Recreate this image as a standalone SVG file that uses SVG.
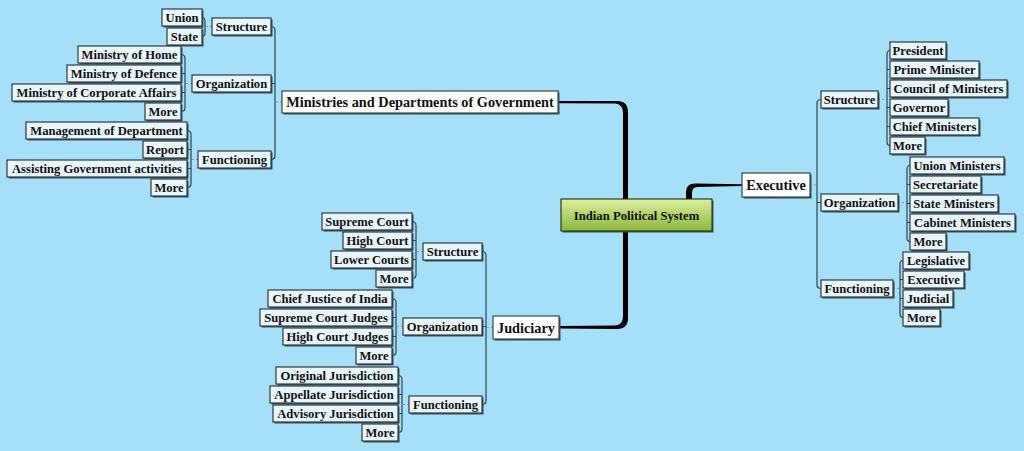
<svg xmlns="http://www.w3.org/2000/svg" width="1024" height="451" viewBox="0 0 1024 451">
<defs>
<linearGradient id="gc" x1="0" y1="0" x2="0" y2="1"><stop offset="0" stop-color="#dcee9f"/><stop offset="1" stop-color="#8cb83a"/></linearGradient>
<style>
.sh{fill:#3e4d55}
.lf{fill:#e8f5fb;stroke:#2c3b43;stroke-width:1.2}
.l1{fill:#ffffff;stroke:#3a4448;stroke-width:1.2}
.t{font-family:"Liberation Serif","Times New Roman",serif;font-weight:bold;font-size:12.6px;fill:#111;text-anchor:middle}
.t1{font-family:"Liberation Serif","Times New Roman",serif;font-weight:bold;font-size:14.3px;fill:#111;text-anchor:middle}
.br{fill:none;stroke:#2e4550;stroke-width:1.2}
.dt{fill:none;stroke:#8a9aa3;stroke-width:1;stroke-dasharray:2,2}
.th{fill:#000}
</style>
</defs>
<rect width="1024" height="451" fill="#a6dff8"/>
<g id="connectors">
<path class="th" d="M559,101 L617,101 Q628,101 628,112 L628,200 L623,200 L623,113 Q623,104 615,103.5 L559,103.2 Z"/>
<path class="th" d="M559,326 L615,325.5 Q623,325 623,316 L623,231 L628,231 L628,318 Q628,329 617,329 L559,328.5 Z"/>
<path class="th" d="M686,199 L686,192 Q686,183.5 695,183.5 L742,184.3 L742,186 L697,187 Q692,187.5 692,193 L692,199 Z"/>
<path class="dt" d="M810,185H817 M878,99.5H887 M898,202.5H907 M893,288.5H900 M282,102H275 M212,26.5H205 M192,83.5H185 M198,159.5H191 M493,327.5H486 M423,251.5H416 M403,326.5H396 M409,404.5H402"/>
<path class="br" d="M821,99.5 Q817,99.5 817,103.5 V284.5 Q817,288.5 821,288.5 M817,202.5H821"/>
<path class="br" d="M890,50.5 Q887,50.5 887,54.5 V141.5 Q887,145.5 890,145.5 M887,69.5H890 M887,88.5H890 M887,107.5H890 M887,126.5H890"/>
<path class="br" d="M910,165.5 Q907,165.5 907,169.5 V237.5 Q907,241.5 910,241.5 M907,184.5H910 M907,203.5H910 M907,222.5H910"/>
<path class="br" d="M903,260.5 Q900,260.5 900,264.5 V313.5 Q900,317.5 903,317.5 M900,279.5H903 M900,298.5H903"/>
<path class="br" d="M271,26.5 Q275,26.5 275,30.5 V155.5 Q275,159.5 271,159.5 M275,83.5H271"/>
<path class="br" d="M202,17.5 Q205,17.5 205,21.5 V32.5 Q205,36.5 202,36.5"/>
<path class="br" d="M181,54.5 Q185,54.5 185,58.5 V107.5 Q185,111.5 181,111.5 M185,73.5H181 M185,92.5H181"/>
<path class="br" d="M187,130.5 Q191,130.5 191,134.5 V183.5 Q191,187.5 187,187.5 M191,149.5H187 M191,168.5H187"/>
<path class="br" d="M482,251.5 Q486,251.5 486,255.5 V400.5 Q486,404.5 482,404.5 M486,326.5H482"/>
<path class="br" d="M412,221.5 Q416,221.5 416,225.5 V274.5 Q416,278.5 412,278.5 M416,240.5H412 M416,259.5H412"/>
<path class="br" d="M392,298.5 Q396,298.5 396,302.5 V351.5 Q396,355.5 392,355.5 M396,317.5H392 M396,336.5H392"/>
<path class="br" d="M398,375.5 Q402,375.5 402,379.5 V428.5 Q402,432.5 398,432.5 M402,394.5H398 M402,413.5H398"/>
</g>
<g id="center"><rect x="562.5" y="200.5" width="151" height="32" class="sh"/><rect x="561" y="199" width="151" height="32" fill="url(#gc)" stroke="#2c3b20" stroke-width="1.2"/><text x="636.5" y="219.5" class="t" style="font-size:12.7px">Indian Political System</text></g>
<g id="ministries"><rect x="283.5" y="92.5" width="276" height="22" class="sh"/><rect x="282" y="91" width="276" height="22" class="l1"/><text x="420" y="107" class="t1">Ministries and Departments of Government</text></g>
<g id="executive"><rect x="743.5" y="174.5" width="68" height="24" class="sh"/><rect x="742" y="173" width="68" height="24" class="l1"/><text x="776" y="190" class="t1">Executive</text></g>
<g id="judiciary"><rect x="494.5" y="317.5" width="66" height="23" class="sh"/><rect x="493" y="316" width="66" height="23" class="l1"/><text x="526" y="332.5" class="t1">Judiciary</text></g>
<g id="ex-structure"><rect x="822.5" y="92.5" width="57" height="17" class="sh"/><rect x="821" y="91" width="57" height="17" class="lf"/><text x="849.5" y="104" class="t">Structure</text></g>
<g id="ex-organization"><rect x="822.5" y="195.5" width="77" height="17" class="sh"/><rect x="821" y="194" width="77" height="17" class="lf"/><text x="859.5" y="207" class="t">Organization</text></g>
<g id="ex-functioning"><rect x="822.5" y="281.5" width="72" height="17" class="sh"/><rect x="821" y="280" width="72" height="17" class="lf"/><text x="857" y="293" class="t">Functioning</text></g>
<g id="ex-president"><rect x="891.5" y="43.5" width="56" height="17" class="sh"/><rect x="890" y="42" width="56" height="17" class="lf"/><text x="918" y="55" class="t">President</text></g>
<g id="ex-pm"><rect x="891.5" y="62.5" width="89" height="17" class="sh"/><rect x="890" y="61" width="89" height="17" class="lf"/><text x="934.5" y="74" class="t">Prime Minister</text></g>
<g id="ex-com"><rect x="891.5" y="81.5" width="117" height="17" class="sh"/><rect x="890" y="80" width="117" height="17" class="lf"/><text x="948.5" y="93" class="t">Council of Ministers</text></g>
<g id="ex-governor"><rect x="891.5" y="100.5" width="58" height="17" class="sh"/><rect x="890" y="99" width="58" height="17" class="lf"/><text x="919" y="112" class="t">Governor</text></g>
<g id="ex-cm"><rect x="891.5" y="119.5" width="89" height="17" class="sh"/><rect x="890" y="118" width="89" height="17" class="lf"/><text x="934.5" y="131" class="t">Chief Ministers</text></g>
<g id="ex-more1"><rect x="891.5" y="138.5" width="35" height="17" class="sh"/><rect x="890" y="137" width="35" height="17" class="lf"/><text x="907.5" y="150" class="t">More</text></g>
<g id="ex-um"><rect x="911.5" y="158.5" width="94" height="17" class="sh"/><rect x="910" y="157" width="94" height="17" class="lf"/><text x="957" y="170" class="t">Union Ministers</text></g>
<g id="ex-sec"><rect x="911.5" y="177.5" width="71" height="17" class="sh"/><rect x="910" y="176" width="71" height="17" class="lf"/><text x="945.5" y="189" class="t">Secretariate</text></g>
<g id="ex-sm"><rect x="911.5" y="196.5" width="88" height="17" class="sh"/><rect x="910" y="195" width="88" height="17" class="lf"/><text x="954" y="208" class="t">State Ministers</text></g>
<g id="ex-cabm"><rect x="911.5" y="215.5" width="105" height="17" class="sh"/><rect x="910" y="214" width="105" height="17" class="lf"/><text x="962.5" y="227" class="t">Cabinet Ministers</text></g>
<g id="ex-more2"><rect x="911.5" y="234.5" width="36" height="17" class="sh"/><rect x="910" y="233" width="36" height="17" class="lf"/><text x="928" y="246" class="t">More</text></g>
<g id="ex-leg"><rect x="904.5" y="253.5" width="66" height="17" class="sh"/><rect x="903" y="252" width="66" height="17" class="lf"/><text x="936" y="265" class="t">Legislative</text></g>
<g id="ex-exe"><rect x="904.5" y="272.5" width="61" height="17" class="sh"/><rect x="903" y="271" width="61" height="17" class="lf"/><text x="933.5" y="284" class="t">Executive</text></g>
<g id="ex-jud"><rect x="904.5" y="291.5" width="50" height="17" class="sh"/><rect x="903" y="290" width="50" height="17" class="lf"/><text x="928" y="303" class="t">Judicial</text></g>
<g id="ex-more3"><rect x="904.5" y="310.5" width="37" height="17" class="sh"/><rect x="903" y="309" width="37" height="17" class="lf"/><text x="921.5" y="322" class="t">More</text></g>
<g id="mn-structure"><rect x="213.5" y="19.5" width="59" height="17" class="sh"/><rect x="212" y="18" width="59" height="17" class="lf"/><text x="241.5" y="31" class="t">Structure</text></g>
<g id="mn-organization"><rect x="193.5" y="76.5" width="79" height="17" class="sh"/><rect x="192" y="75" width="79" height="17" class="lf"/><text x="231.5" y="88" class="t">Organization</text></g>
<g id="mn-functioning"><rect x="199.5" y="152.5" width="73" height="17" class="sh"/><rect x="198" y="151" width="73" height="17" class="lf"/><text x="234.5" y="164" class="t">Functioning</text></g>
<g id="mn-union"><rect x="163.5" y="10.5" width="40" height="17" class="sh"/><rect x="162" y="9" width="40" height="17" class="lf"/><text x="182" y="22" class="t">Union</text></g>
<g id="mn-state"><rect x="168.5" y="29.5" width="35" height="17" class="sh"/><rect x="167" y="28" width="35" height="17" class="lf"/><text x="184.5" y="41" class="t">State</text></g>
<g id="mn-home"><rect x="79.5" y="47.5" width="103" height="17" class="sh"/><rect x="78" y="46" width="103" height="17" class="lf"/><text x="129.5" y="59" class="t">Ministry of Home</text></g>
<g id="mn-defence"><rect x="68.5" y="66.5" width="114" height="17" class="sh"/><rect x="67" y="65" width="114" height="17" class="lf"/><text x="124" y="78" class="t">Ministry of Defence</text></g>
<g id="mn-corp"><rect x="13.5" y="85.5" width="169" height="17" class="sh"/><rect x="12" y="84" width="169" height="17" class="lf"/><text x="96.5" y="97" class="t">Ministry of Corporate Affairs</text></g>
<g id="mn-more1"><rect x="146.5" y="104.5" width="36" height="17" class="sh"/><rect x="145" y="103" width="36" height="17" class="lf"/><text x="163" y="116" class="t">More</text></g>
<g id="mn-mgmt"><rect x="27.5" y="123.5" width="161" height="17" class="sh"/><rect x="26" y="122" width="161" height="17" class="lf"/><text x="106.5" y="135" class="t">Management of Department</text></g>
<g id="mn-report"><rect x="144.5" y="142.5" width="44" height="17" class="sh"/><rect x="143" y="141" width="44" height="17" class="lf"/><text x="165" y="154" class="t">Report</text></g>
<g id="mn-assist"><rect x="8.5" y="161.5" width="180" height="17" class="sh"/><rect x="7" y="160" width="180" height="17" class="lf"/><text x="97" y="173" class="t">Assisting Government activities</text></g>
<g id="mn-more2"><rect x="152.5" y="180.5" width="36" height="17" class="sh"/><rect x="151" y="179" width="36" height="17" class="lf"/><text x="169" y="192" class="t">More</text></g>
<g id="jd-structure"><rect x="424.5" y="244.5" width="59" height="17" class="sh"/><rect x="423" y="243" width="59" height="17" class="lf"/><text x="452.5" y="256" class="t">Structure</text></g>
<g id="jd-organization"><rect x="404.5" y="319.5" width="79" height="17" class="sh"/><rect x="403" y="318" width="79" height="17" class="lf"/><text x="442.5" y="331" class="t">Organization</text></g>
<g id="jd-functioning"><rect x="410.5" y="397.5" width="73" height="17" class="sh"/><rect x="409" y="396" width="73" height="17" class="lf"/><text x="445.5" y="409" class="t">Functioning</text></g>
<g id="jd-sc"><rect x="323.5" y="214.5" width="90" height="17" class="sh"/><rect x="322" y="213" width="90" height="17" class="lf"/><text x="367" y="226" class="t">Supreme Court</text></g>
<g id="jd-hc"><rect x="344.5" y="233.5" width="69" height="17" class="sh"/><rect x="343" y="232" width="69" height="17" class="lf"/><text x="377.5" y="245" class="t">High Court</text></g>
<g id="jd-lc"><rect x="332.5" y="252.5" width="81" height="17" class="sh"/><rect x="331" y="251" width="81" height="17" class="lf"/><text x="371.5" y="264" class="t">Lower Courts</text></g>
<g id="jd-more1"><rect x="377.5" y="271.5" width="36" height="17" class="sh"/><rect x="376" y="270" width="36" height="17" class="lf"/><text x="394" y="283" class="t">More</text></g>
<g id="jd-cji"><rect x="269.5" y="291.5" width="124" height="17" class="sh"/><rect x="268" y="290" width="124" height="17" class="lf"/><text x="330" y="303" class="t">Chief Justice of India</text></g>
<g id="jd-scj"><rect x="261.5" y="310.5" width="132" height="17" class="sh"/><rect x="260" y="309" width="132" height="17" class="lf"/><text x="326" y="322" class="t">Supreme Court Judges</text></g>
<g id="jd-hcj"><rect x="284.5" y="329.5" width="109" height="17" class="sh"/><rect x="283" y="328" width="109" height="17" class="lf"/><text x="337.5" y="341" class="t">High Court Judges</text></g>
<g id="jd-more2"><rect x="357.5" y="348.5" width="36" height="17" class="sh"/><rect x="356" y="347" width="36" height="17" class="lf"/><text x="374" y="360" class="t">More</text></g>
<g id="jd-oj"><rect x="277.5" y="368.5" width="122" height="17" class="sh"/><rect x="276" y="367" width="122" height="17" class="lf"/><text x="337" y="380" class="t">Original Jurisdiction</text></g>
<g id="jd-aj"><rect x="271.5" y="387.5" width="128" height="17" class="sh"/><rect x="270" y="386" width="128" height="17" class="lf"/><text x="334" y="399" class="t">Appellate Jurisdiction</text></g>
<g id="jd-adj"><rect x="274.5" y="406.5" width="125" height="17" class="sh"/><rect x="273" y="405" width="125" height="17" class="lf"/><text x="335.5" y="418" class="t">Advisory Jurisdiction</text></g>
<g id="jd-more3"><rect x="363.5" y="425.5" width="36" height="17" class="sh"/><rect x="362" y="424" width="36" height="17" class="lf"/><text x="380" y="437" class="t">More</text></g>
</svg>
